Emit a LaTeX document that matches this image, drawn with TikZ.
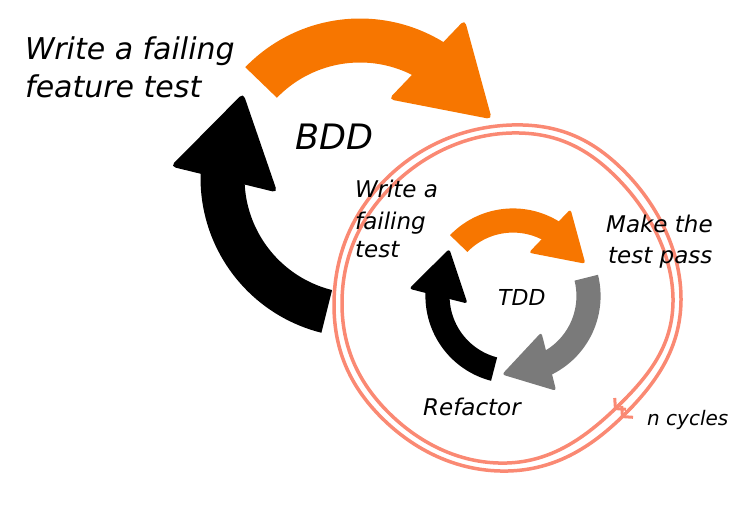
\documentclass[tikz,border=0pt]{standalone}
\usepackage{fontspec}
\setmainfont{DejaVu Sans}
\usetikzlibrary{arrows.meta}
\definecolor{arrorange}{RGB}{247,118,0}
\definecolor{arrgray}{RGB}{122,122,122}
\definecolor{ringsalmon}{RGB}{250,137,115}
% cycle arrow: #1 cx, #2 cy, #3 mid radius, #4 tail angle, #5 colour, #6 corner rounding
\newcommand\cycarrow[6]{%
  \pgfmathsetmacro\caE{#4+79.5}%
  \fill[#5] plot[domain=#4:\caE, samples=40, variable=\t]
      ({#1+1.16*#3*cos(\t)},{#2+1.16*#3*sin(\t)})
    -- plot[domain=\caE:#4, samples=40, variable=\t]
      ({#1+0.84*#3*cos(\t)},{#2+0.84*#3*sin(\t)}) -- cycle;
  \fill[#5, rounded corners=#6]
      ({#1+1.38*#3*cos(#4+79.5)},{#2+1.38*#3*sin(#4+79.5)})
   -- ({#1+1.05*#3*cos(#4+112)},{#2+1.05*#3*sin(#4+112)})
   -- ({#1+0.61*#3*cos(#4+66)},{#2+0.61*#3*sin(#4+66)}) -- cycle;}
\tikzset{
  hand/.style={font=\itshape\fontsize{23}{28}\selectfont, anchor=base west, inner sep=0pt, text=black},
  handbig/.style={hand, font=\itshape\fontsize{30}{36}\selectfont},
  handbdd/.style={hand, font=\itshape\fontsize{35}{42}\selectfont},
  handtdd/.style={hand, font=\itshape\fontsize{22}{26}\selectfont},
  handsmall/.style={hand, font=\itshape\fontsize{20}{24}\selectfont},
  ringline/.style={draw=ringsalmon, line width=3.5pt},
  ringtip/.style={draw=ringsalmon, line width=3pt, -{Straight Barb[length=7pt,width=16pt]}}
}
\begin{document}
\begin{tikzpicture}[x=1pt,y=-1pt]
\useasboundingbox (0,0) rectangle (743,526);
% BDD cycle
\cycarrow{360}{178}{137.5}{-136}{arrorange}{5pt}
\cycarrow{360}{178}{137.5}{104}{black}{5pt}
% TDD cycle
\cycarrow{513}{296}{75.5}{-136}{arrorange}{3pt}
\cycarrow{513}{296}{75.5}{-14}{arrgray}{3pt}
\cycarrow{513}{296}{75.5}{104.5}{black}{3pt}
% n cycles ring
\draw[ringline] plot[smooth cycle, tension=0.7] coordinates
  {(681,300) (624,415) (508,471) (385,421) (334,305) (385,180) (512,125) (626,173)};
\draw[ringline] plot[smooth cycle, tension=0.7] coordinates
  {(673,302) (617,407) (507,463) (390,414) (342,302) (392,186) (512,133) (620,181)};
\coordinate (ro1) at (633,406);
\coordinate (ro2) at (621,418);
\coordinate (ri1) at (626,398);
\coordinate (ri2) at (614,410);
\draw[ringtip] (ro1) -- (ro2);
\draw[ringtip] (ri1) -- (ri2);
% labels
\node[handbig] (bddstart1) at (25,60) {Write a failing};
\node[handbig] (bddstart2) at (25,98) {feature test};
\node[handbdd] (bdd) at (295,150) {BDD};
\node[hand] (wf1) at (355,198) {Write a};
\node[hand] (wf2) at (355,230) {failing};
\node[hand] (wf3) at (355,258) {test};
\node[hand] (mk1) at (606,233) {Make the};
\node[hand] (mk2) at (608,263) {test pass};
\node[handtdd] (tdd) at (498,305) {TDD};
\node[hand] (refac) at (423,415) {Refactor};
\node[handsmall] (ncyc) at (647,425) {n cycles};
\end{tikzpicture}
\end{document}
